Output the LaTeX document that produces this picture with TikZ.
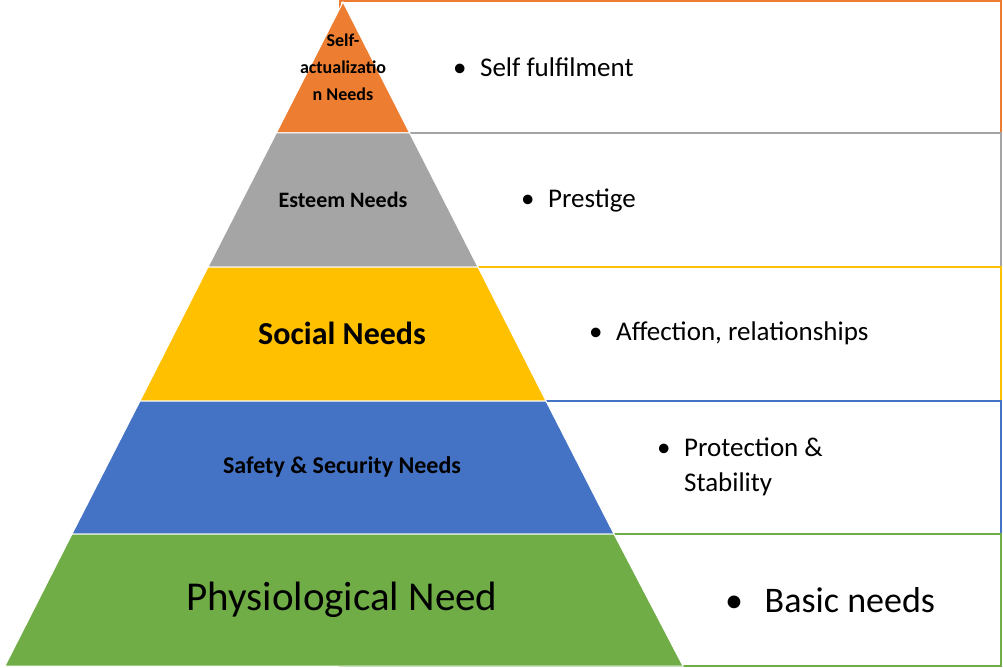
\documentclass[tikz,border=0pt]{standalone}
\usepackage{fontspec}
\setmainfont{Carlito}
\definecolor{cor}{HTML}{ED7D31}
\definecolor{cgr}{HTML}{A5A5A5}
\definecolor{cye}{HTML}{FFC000}
\definecolor{cbl}{HTML}{4472C4}
\definecolor{cgn}{HTML}{70AD47}
\begin{document}
\begin{tikzpicture}[x=1pt,y=-1pt,
  box/.style={line width=1.5pt},
  layer/.style={draw=white,line width=1pt},
  lab/.style={font=\bfseries,align=center,inner sep=0pt},
  item/.style={anchor=west,align=left,inner sep=0pt}]
\useasboundingbox (0,0) rectangle (1003,668);
% right boxes
\draw[box,cor] (340,1) rectangle (1001,133);
\draw[box,cgr] (340,133) rectangle (1001,267);
\draw[box,cye] (340,267) rectangle (1001,401);
\draw[box,cbl] (340,401) rectangle (1001,534);
\draw[box,cgn] (340,534) rectangle (1001,666);
% pyramid
\fill[cor,layer] (343,2) -- (409.7,133) -- (276.3,133) -- cycle;
\fill[cgr,layer] (276.3,133) -- (409.7,133) -- (478,267) -- (208,267) -- cycle;
\fill[cye,layer] (208,267) -- (478,267) -- (546,401) -- (140,401) -- cycle;
\fill[cbl,layer] (140,401) -- (546,401) -- (614,534) -- (72,534) -- cycle;
\fill[cgn,layer] (72,534) -- (614,534) -- (683,666) -- (5,666) -- cycle;
% labels
\node[lab,font=\bfseries\fontsize{18}{27}\selectfont] (l1) at (343,67) {Self-\\actualizatio\\n Needs};
\node[lab,font=\bfseries\fontsize{22}{26}\selectfont] (l2) at (343,200) {Esteem Needs};
\node[lab,font=\bfseries\fontsize{32}{38}\selectfont] (l3) at (342,333) {Social Needs};
\node[lab,font=\bfseries\fontsize{24}{28}\selectfont] (l4) at (342,467) {Safety \& Security Needs};
\node[lab,font=\fontsize{41}{48}\selectfont] (l5) at (342,600) {Physiological Need};
% items
\node[item,font=\fontsize{27}{35}\selectfont] (r1) at (453,67) {\textbullet\hspace{0.5em}Self fulfilment};
\node[item,font=\fontsize{27}{35}\selectfont] (r2) at (521,200) {\textbullet\hspace{0.5em}Prestige};
\node[item,font=\fontsize{27}{35}\selectfont] (r3) at (589,333) {\textbullet\hspace{0.5em}Affection, relationships};
\node[item,font=\fontsize{27}{35}\selectfont] (r4) at (657,467) {\textbullet\hspace{0.5em}\begin{tabular}[t]{@{}l@{}}Protection \&\\Stability\end{tabular}};
\node[item,font=\fontsize{36}{44}\selectfont] (r5) at (725,600) {\textbullet\hspace{0.6em}Basic needs};
\end{tikzpicture}
\end{document}
